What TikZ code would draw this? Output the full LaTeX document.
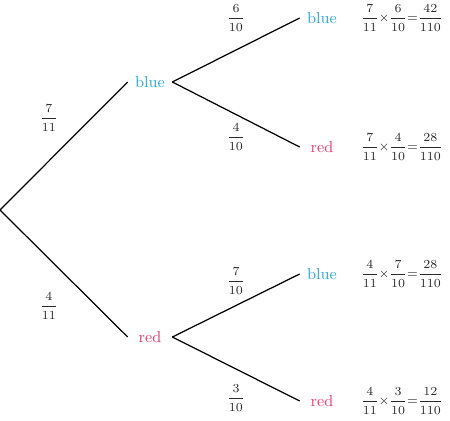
\documentclass[tikz,border=0pt]{standalone}
\usepackage{amsmath}
\usetikzlibrary{positioning}

\definecolor{blueclr}{RGB}{38,168,226}
\definecolor{redclr}{RGB}{233,60,112}
\definecolor{fracclr}{RGB}{40,40,40}

\tikzset{
    outcome/.style={font=\small, minimum width=0.88cm, inner sep=0pt, minimum height=1.2em},
    isblue/.style={outcome, text=blueclr},
    isred/.style={outcome, text=redclr},
    prob/.style={font=\scriptsize, text=fracclr, inner sep=1pt},
    product/.style={prob, execute at begin node={\medmuskip=2mu\relax\thickmuskip=2.5mu\relax\nulldelimiterspace=0pt\relax}},
    branch/.style={black, line width=0.7pt}
}

\begin{document}
\begin{tikzpicture}[x=0.02cm, y=-0.02cm]
    \useasboundingbox (0,0) rectangle (450,420);
    \coordinate (start) at (0,210);

    % first pick
    \node[isblue] (b) at (150,82) {blue};
    \node[isred] (r) at (150,337) {red};

    % second pick
    \node[isblue] (bb) at (322,18) {blue};
    \node[isred] (br) at (322,147) {red};
    \node[isblue] (rb) at (322,274) {blue};
    \node[isred] (rr) at (322,401) {red};

    \draw[branch] (start) -- (b.west);
    \draw[branch] (start) -- (r.west);
    \draw[branch] (b.east) -- (bb.west);
    \draw[branch] (b.east) -- (br.west);
    \draw[branch] (r.east) -- (rb.west);
    \draw[branch] (r.east) -- (rr.west);

    % branch probabilities
    \node[prob] (pb) at (49,118) {$\dfrac{7}{11}$};
    \node[prob] (pr) at (49,306) {$\dfrac{4}{11}$};
    \node[prob] (pbb) at (236,18) {$\dfrac{6}{10}$};
    \node[prob] (pbr) at (236,137) {$\dfrac{4}{10}$};
    \node[prob] (prb) at (236,281) {$\dfrac{7}{10}$};
    \node[prob] (prr) at (236,398) {$\dfrac{3}{10}$};

    % products
    \node[product, right=0.33cm of bb] (tbb) {$\dfrac{7}{11}\times\dfrac{6}{10}=\dfrac{42}{110}$};
    \node[product, right=0.33cm of br] (tbr) {$\dfrac{7}{11}\times\dfrac{4}{10}=\dfrac{28}{110}$};
    \node[product, right=0.33cm of rb] (trb) {$\dfrac{4}{11}\times\dfrac{7}{10}=\dfrac{28}{110}$};
    \node[product, right=0.33cm of rr] (trr) {$\dfrac{4}{11}\times\dfrac{3}{10}=\dfrac{12}{110}$};
\end{tikzpicture}
\end{document}
